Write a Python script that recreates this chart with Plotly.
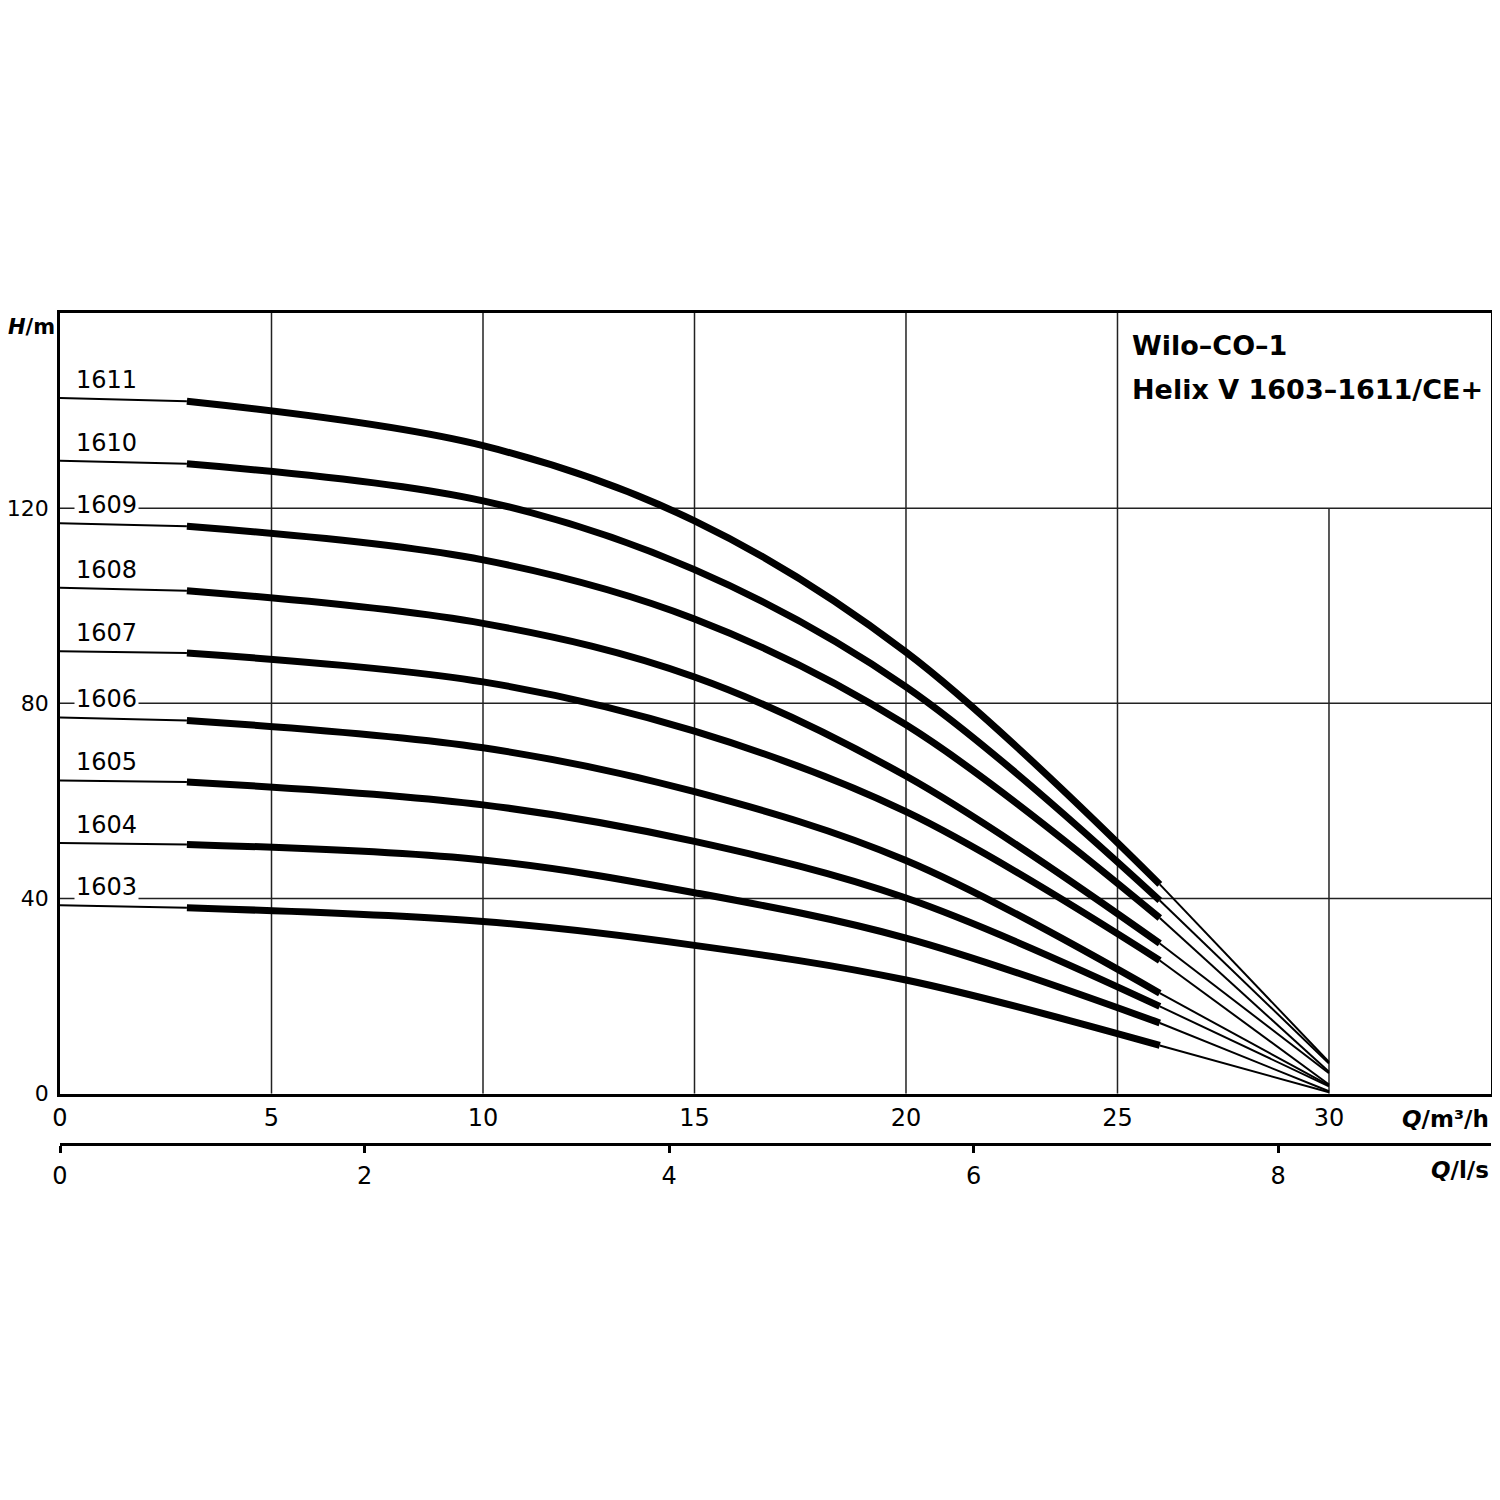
import plotly.graph_objects as go

# pump models and head readings (H in m) at flow points (Q in m3/h)
models = ["1603", "1604", "1605", "1606", "1607", "1608", "1609", "1610", "1611"]
q_start = [0, 3]
q_main = [3, 10, 15, 20, 26]
q_tail = [26, 30]

h_q0 = [38.6, 51.4, 64.2, 77.1, 90.7, 103.7, 116.9, 129.7, 142.6]
h_q3 = [38.1, 51.1, 63.9, 76.5, 90.3, 103.1, 116.3, 129.1, 141.9]
h_q10 = [35.3, 47.9, 59.2, 70.9, 84.4, 96.4, 109.4, 121.5, 132.8]
h_q15 = [30.4, 41.2, 51.7, 61.9, 74.3, 85.4, 97.3, 107.4, 117.4]
h_q20 = [23.3, 31.9, 40.1, 47.8, 57.8, 65.1, 75.6, 83.4, 90.5]
h_q26 = [9.9, 14.5, 17.9, 20.6, 27.3, 30.8, 36.0, 39.6, 42.9]
h_q30 = [0.3, 0.5, 1.5, 1.7, 1.9, 4.2, 4.5, 6.2, 6.5]

x_ticks = [0, 5, 10, 15, 20, 25, 30]
y_ticks = [0, 40, 80, 120]
ls_ticks = [0, 2, 4, 6, 8]
x_max = 33.83
y_max = 160
box_x0 = 25
box_y0 = 120

FONT = "DejaVu Sans"

fig = go.Figure()

for i, name in enumerate(models):
    # thin start segment
    fig.add_trace(go.Scatter(
        x=q_start, y=[h_q0[i], h_q3[i]], mode="lines",
        line=dict(color="black", width=2), showlegend=False, hoverinfo="skip"
    ))
    # thick working range
    fig.add_trace(go.Scatter(
        x=q_main,
        y=[h_q3[i], h_q10[i], h_q15[i], h_q20[i], h_q26[i]],
        mode="lines", line=dict(color="black", width=7, shape="spline", smoothing=1.0),
        showlegend=False, name=name
    ))
    # thin end segment
    fig.add_trace(go.Scatter(
        x=q_tail, y=[h_q26[i], h_q30[i]], mode="lines",
        line=dict(color="black", width=2), showlegend=False, hoverinfo="skip"
    ))
    fig.add_annotation(
        x=0.33, y=h_q0[i] + 3.7, xref="x", yref="y", text=name,
        showarrow=False, xanchor="left", yanchor="middle",
        font=dict(family=FONT, size=24, color="black"),
        bgcolor="white", borderpad=1
    )

# l/s scale uses its own axis
fig.add_trace(go.Scatter(
    x=ls_ticks, y=[None] * len(ls_ticks), xaxis="x2", yaxis="y",
    mode="markers", showlegend=False, hoverinfo="skip"
))

# grid lines drawn as shapes (the 30 line stops under the title box)
grid = dict(color="#222222", width=1.5)
for xv in x_ticks[1:]:
    top = box_y0 if xv > box_x0 else y_max
    fig.add_shape(type="line", x0=xv, x1=xv, y0=0, y1=top, xref="x", yref="y",
                  line=grid, layer="below")
for yv in y_ticks[1:]:
    fig.add_shape(type="line", x0=0, x1=x_max, y0=yv, y1=yv, xref="x", yref="y",
                  line=grid, layer="below")

# title box text
fig.add_annotation(
    x=box_x0 + 0.3, y=153.3, xref="x", yref="y",
    text="<b>Wilo–CO–1</b>", showarrow=False, xanchor="left", yanchor="middle",
    font=dict(family=FONT, size=27, color="black")
)
fig.add_annotation(
    x=box_x0 + 0.3, y=144.3, xref="x", yref="y",
    text="<b>Helix V 1603–1611/CE+</b>", showarrow=False, xanchor="left", yanchor="middle",
    font=dict(family=FONT, size=27, color="black")
)

# axis titles
fig.add_annotation(
    x=0, y=1.0, xref="paper", yref="paper", text="<b><i>H</i>/m</b>",
    showarrow=False, xanchor="right", yanchor="middle",
    font=dict(family=FONT, size=21, color="black"), xshift=-3, yshift=-14
)
fig.add_annotation(
    x=1.0, y=0.0, xref="paper", yref="paper", text="<b><i>Q</i>/m³/h</b>",
    showarrow=False, xanchor="right", yanchor="middle",
    font=dict(family=FONT, size=23, color="black"), yshift=25
)
fig.add_annotation(
    x=1.0, y=0.0, xref="paper", yref="paper", text="<b><i>Q</i>/l/s</b>",
    showarrow=False, xanchor="right", yanchor="middle",
    font=dict(family=FONT, size=23, color="black"), yshift=-26
)

fig.update_layout(
    width=1484, height=1484,
    margin=dict(l=52, r=1, t=305, b=348),
    plot_bgcolor="white", paper_bgcolor="white",
    font=dict(family=FONT, size=24, color="black"),
    xaxis=dict(
        range=[0, x_max], tickvals=x_ticks, showgrid=False, zeroline=False,
        showline=True, linecolor="black", linewidth=2.5, mirror=True,
        ticks="", ticklabelstandoff=1, anchor="y", automargin=False,
        tickfont=dict(family=FONT, size=24)
    ),
    xaxis2=dict(
        range=[0, x_max / 3.6], tickvals=ls_ticks, overlaying="x", anchor="free",
        position=0, side="bottom", showgrid=False, zeroline=False,
        showline=True, linecolor="black", linewidth=2.5, automargin=False,
        ticks="outside", ticklen=7, tickwidth=2.5, tickcolor="black",
        ticklabelstandoff=2, tickfont=dict(family=FONT, size=24)
    ),
    yaxis=dict(
        range=[0, y_max], tickvals=y_ticks, domain=[0.0605, 1],
        showgrid=False, zeroline=False, showline=True, linecolor="black",
        linewidth=2.5, mirror=True, ticks="", ticklen=0, ticklabelstandoff=4,
        automargin=False, tickfont=dict(family=FONT, size=22)
    ),
)

fig.write_html("out.html")
